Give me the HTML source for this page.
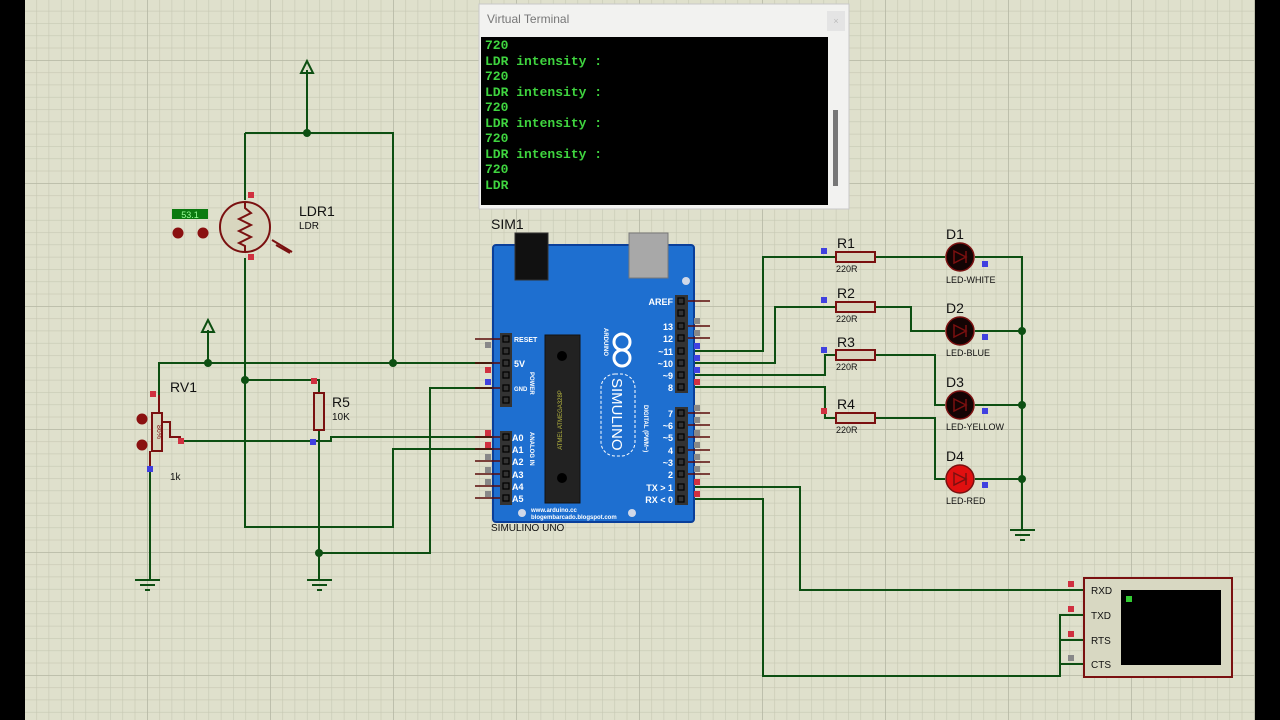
<!DOCTYPE html>
<html><head><meta charset="utf-8"><style>
html,body{margin:0;padding:0;width:1280px;height:720px;overflow:hidden;background:#000}
svg{display:block}
text{font-family:"Liberation Sans",sans-serif}
text.mono{font-family:"Liberation Mono",monospace}
</style></head><body>
<svg width="1280" height="720" viewBox="0 0 1280 720" xmlns="http://www.w3.org/2000/svg">
<defs>
<pattern id="mn" width="12.3" height="12.3" patternUnits="userSpaceOnUse" patternTransform="translate(11.7,10.8)">
<path d="M0 0H12.3M0 0V12.3" stroke="#c6c8b3" stroke-width="1.2" fill="none"/></pattern>
<pattern id="mj" width="123" height="123" patternUnits="userSpaceOnUse" patternTransform="translate(24,60)">
<path d="M0 0H123M0 0V123" stroke="#b6b8a4" stroke-width="1.6" fill="none"/></pattern>
</defs>
<rect x="25" y="0" width="1230" height="720" fill="#dfe0cc"/>
<rect x="25" y="0" width="1230" height="720" fill="url(#mn)"/>
<rect x="25" y="0" width="1230" height="720" fill="url(#mj)"/>

<!-- wires -->
<g stroke="#0d4f12" stroke-width="2" fill="none">
<path d="M307 70V133M245 133H393V363M245 133V200M245 258V527H393V449H500"/>
<path d="M159 395V363H500M208 363V330"/>
<path d="M245 380H319V393M319 430V580M181 441H313H331V437H500"/>
<path d="M319 553H430V388H500"/>
<path d="M150 468V580"/>
<path d="M688 351H763V257H836M875 257H945M975 257H1022V530"/>
<path d="M688 363H775V307H836M875 307H911V331H945M975 331H1022"/>
<path d="M688 375H825V355H836M875 355H935V405H945M975 405H1022"/>
<path d="M688 387H825V418H836M875 418H935V479H945M975 479H1022"/>
<path d="M688 487H800V590H1085"/>
<path d="M688 499H763V676H1060V615H1085M1060 640H1085M1060 664H1085"/>
</g>
<g fill="#0d4f12">
<circle cx="307" cy="133" r="4"/><circle cx="393" cy="363" r="4"/><circle cx="208" cy="363" r="4"/>
<circle cx="245" cy="380" r="4"/><circle cx="319" cy="553" r="4"/>
<circle cx="1022" cy="331" r="4"/><circle cx="1022" cy="405" r="4"/><circle cx="1022" cy="479" r="4"/>
</g>
<g stroke="#0d4f12" stroke-width="2" fill="none">
<path d="M307 61L301 73H313Z"/><path d="M208 320L202 332H214Z"/>
<path d="M135 580H160M140 585H155M145 590H150"/>
<path d="M307 580H332M312 585H327M317 590H322"/>
<path d="M1010 530H1035M1015 535H1030M1020 540H1025"/>
</g>

<!-- LDR -->
<circle cx="245" cy="227" r="25" fill="#d8d6bf" stroke="#7a1010" stroke-width="2"/>
<path d="M245 202V208L251 213L239 219L251 225L239 231L251 237L239 243L245 246V252" stroke="#7a1010" stroke-width="2" fill="none"/>
<path d="M272 240L292 252M276 245L290 253" stroke="#7a1010" stroke-width="2"/>
<rect x="248" y="192" width="6" height="6" fill="#d03040"/><rect x="248" y="254" width="6" height="6" fill="#d03040"/>
<text x="299" y="216" font-size="14" fill="#111">LDR1</text>
<text x="299" y="229" font-size="10" fill="#111">LDR</text>
<rect x="172" y="209" width="36" height="10" fill="#0a7a10"/>
<text x="190" y="218" font-size="9" fill="#9f9" text-anchor="middle">53.1</text>
<circle cx="178" cy="233" r="5.5" fill="#8a1010"/><circle cx="203" cy="233" r="5.5" fill="#8a1010"/>

<!-- RV1 -->
<path d="M159 395V413M150 451V468M162 422H170V437L181 437" stroke="#7a1010" stroke-width="2" fill="none"/>
<rect x="152" y="413" width="10" height="38" fill="#d8d6bf" stroke="#7a1010" stroke-width="2"/>
<text x="157" y="432" font-size="7" fill="#7a1010" transform="rotate(90 157 432)" text-anchor="middle">86%</text>
<rect x="150" y="391" width="6" height="6" fill="#d03040"/><rect x="178" y="438" width="6" height="6" fill="#d03040"/><rect x="147" y="466" width="6" height="6" fill="#4040e0"/>
<circle cx="142" cy="419" r="5.5" fill="#8a1010"/><circle cx="142" cy="445" r="5.5" fill="#8a1010"/>
<text x="170" y="392" font-size="14" fill="#111">RV1</text>
<text x="170" y="480" font-size="10" fill="#111">1k</text>

<!-- R5 -->
<rect x="314" y="393" width="10" height="37" fill="#d8d6bf" stroke="#7a1010" stroke-width="2"/>
<rect x="311" y="378" width="6" height="6" fill="#d03040"/><rect x="310" y="439" width="6" height="6" fill="#4040e0"/>
<text x="332" y="407" font-size="14" fill="#111">R5</text>
<text x="332" y="420" font-size="10" fill="#111">10K</text>

<!-- Arduino -->
<rect x="493" y="245" width="201" height="277" fill="#1e6fd0" stroke="#0a3f9a" stroke-width="2" rx="3"/>
<rect x="629" y="233" width="39" height="45" fill="#a8a8a8" stroke="#777"/>
<rect x="515" y="233" width="33" height="47" fill="#111" stroke="#333"/>
<g fill="#d0d8e8"><circle cx="686" cy="281" r="4"/><circle cx="522" cy="513" r="4"/><circle cx="632" cy="513" r="4"/></g>
<rect x="545" y="335" width="35" height="168" fill="#222" stroke="#111"/>
<circle cx="562" cy="356" r="5" fill="#000"/><circle cx="562" cy="478" r="5" fill="#000"/>
<text x="562" y="420" font-size="6" fill="#b8b840" transform="rotate(-90 562 420)" text-anchor="middle">ATMEL  ATMEGA328P</text>
<rect x="500" y="333" width="12" height="74" fill="#333"/>
<rect x="500" y="431" width="12" height="74" fill="#333"/>
<rect x="675" y="295" width="13" height="98" fill="#333"/>
<rect x="675" y="407" width="13" height="98" fill="#333"/>
<g fill="none" stroke="#000" stroke-width="1.2">
<rect x="503" y="336" width="6" height="6"/><rect x="503" y="348" width="6" height="6"/><rect x="503" y="360" width="6" height="6"/><rect x="503" y="372" width="6" height="6"/><rect x="503" y="385" width="6" height="6"/><rect x="503" y="397" width="6" height="6"/>
<rect x="503" y="434" width="6" height="6"/><rect x="503" y="446" width="6" height="6"/><rect x="503" y="458" width="6" height="6"/><rect x="503" y="471" width="6" height="6"/><rect x="503" y="483" width="6" height="6"/><rect x="503" y="495" width="6" height="6"/>
<rect x="678" y="298" width="6" height="6"/><rect x="678" y="310" width="6" height="6"/><rect x="678" y="323" width="6" height="6"/><rect x="678" y="335" width="6" height="6"/><rect x="678" y="348" width="6" height="6"/><rect x="678" y="360" width="6" height="6"/><rect x="678" y="372" width="6" height="6"/><rect x="678" y="384" width="6" height="6"/>
<rect x="678" y="410" width="6" height="6"/><rect x="678" y="422" width="6" height="6"/><rect x="678" y="434" width="6" height="6"/><rect x="678" y="447" width="6" height="6"/><rect x="678" y="459" width="6" height="6"/><rect x="678" y="471" width="6" height="6"/><rect x="678" y="484" width="6" height="6"/><rect x="678" y="496" width="6" height="6"/>
</g>
<g stroke="#5a0a0a" stroke-width="1.5">
<path d="M475 339H500M475 363H500M475 388H500M475 437H500M475 449H500M475 461H500M475 474H500M475 486H500M475 498H500"/>
<path d="M688 301H710M688 326H710M688 338H710M688 413H710M688 425H710M688 437H710M688 450H710M688 462H710M688 474H710"/>
</g>
<g>
<rect x="485" y="342" width="6" height="6" fill="#888"/><rect x="485" y="367" width="6" height="6" fill="#d03040"/><rect x="485" y="379" width="6" height="6" fill="#4040e0"/>
<rect x="485" y="430" width="6" height="6" fill="#d03040"/><rect x="485" y="442" width="6" height="6" fill="#d03040"/><rect x="485" y="454" width="6" height="6" fill="#888"/><rect x="485" y="467" width="6" height="6" fill="#888"/><rect x="485" y="479" width="6" height="6" fill="#888"/><rect x="485" y="491" width="6" height="6" fill="#888"/>
<rect x="694" y="318" width="6" height="6" fill="#888"/><rect x="694" y="330" width="6" height="6" fill="#888"/><rect x="694" y="343" width="6" height="6" fill="#4040e0"/><rect x="694" y="355" width="6" height="6" fill="#4040e0"/><rect x="694" y="367" width="6" height="6" fill="#4040e0"/><rect x="694" y="379" width="6" height="6" fill="#d03040"/>
<rect x="694" y="405" width="6" height="6" fill="#888"/><rect x="694" y="417" width="6" height="6" fill="#888"/><rect x="694" y="430" width="6" height="6" fill="#888"/><rect x="694" y="442" width="6" height="6" fill="#888"/><rect x="694" y="454" width="6" height="6" fill="#888"/><rect x="694" y="466" width="6" height="6" fill="#888"/><rect x="694" y="479" width="6" height="6" fill="#d03040"/><rect x="694" y="491" width="6" height="6" fill="#d03040"/>
</g>
<g fill="#fff" font-size="9" font-weight="bold">
<text x="514" y="342" font-size="7">RESET</text><text x="514" y="367">5V</text><text x="514" y="391" font-size="6">GND</text>
<text x="512" y="441">A0</text><text x="512" y="453">A1</text><text x="512" y="465">A2</text><text x="512" y="478">A3</text><text x="512" y="490">A4</text><text x="512" y="502">A5</text>
<g text-anchor="end"><text x="673" y="305">AREF</text><text x="673" y="330">13</text><text x="673" y="342">12</text><text x="673" y="355">~11</text><text x="673" y="367">~10</text><text x="673" y="379">~9</text><text x="673" y="391">8</text>
<text x="673" y="417">7</text><text x="673" y="429">~6</text><text x="673" y="441">~5</text><text x="673" y="454">4</text><text x="673" y="466">~3</text><text x="673" y="478">2</text><text x="673" y="491">TX &gt; 1</text><text x="673" y="503">RX &lt; 0</text></g>
<text x="530" y="372" font-size="6" transform="rotate(90 530 372)">POWER</text>
<text x="530" y="432" font-size="6" transform="rotate(90 530 432)">ANALOG IN</text>
<text x="644" y="405" font-size="6" transform="rotate(90 644 405)">DIGITAL (PWM~)</text>
<text x="604" y="328" font-size="6" transform="rotate(90 604 328)">ARDUINO</text>
<text x="612" y="378" font-size="15" font-weight="normal" transform="rotate(90 612 378)">SIMULINO</text>
<text x="531" y="512" font-size="6">www.arduino.cc</text><text x="531" y="519" font-size="6">blogembarcado.blogspot.com</text>
</g>
<rect x="601" y="374" width="34" height="82" rx="14" fill="none" stroke="#fff" stroke-dasharray="3 2"/>
<circle cx="622" cy="342" r="8" fill="none" stroke="#fff" stroke-width="3"/><circle cx="622" cy="358" r="8" fill="none" stroke="#fff" stroke-width="3"/>
<text x="491" y="229" font-size="14" fill="#111">SIM1</text>
<text x="491" y="531" font-size="10" fill="#111">SIMULINO UNO</text>

<!-- resistors & LEDs -->
<g fill="#d8d6bf" stroke="#7a1010" stroke-width="2">
<rect x="836" y="252" width="39" height="10"/><rect x="836" y="302" width="39" height="10"/><rect x="836" y="350" width="39" height="10"/><rect x="836" y="413" width="39" height="10"/>
</g>
<g fill="#4040e0"><rect x="821" y="248" width="6" height="6"/><rect x="821" y="297" width="6" height="6"/><rect x="821" y="347" width="6" height="6"/>
<rect x="982" y="261" width="6" height="6"/><rect x="982" y="334" width="6" height="6"/><rect x="982" y="408" width="6" height="6"/><rect x="982" y="482" width="6" height="6"/></g>
<rect x="821" y="408" width="6" height="6" fill="#d03040"/>
<g font-size="14" fill="#111"><text x="837" y="248">R1</text><text x="837" y="298">R2</text><text x="837" y="347">R3</text><text x="837" y="409">R4</text>
<text x="946" y="239">D1</text><text x="946" y="313">D2</text><text x="946" y="387">D3</text><text x="946" y="461">D4</text></g>
<g font-size="9" fill="#111"><text x="836" y="272">220R</text><text x="836" y="322">220R</text><text x="836" y="370">220R</text><text x="836" y="433">220R</text>
<text x="946" y="283">LED-WHITE</text><text x="946" y="356">LED-BLUE</text><text x="946" y="430">LED-YELLOW</text><text x="946" y="504">LED-RED</text></g>
<g stroke="#7a1010" stroke-width="1.5" fill="none">
<circle cx="960" cy="257" r="14" fill="#140404"/><circle cx="960" cy="331" r="14" fill="#140404"/><circle cx="960" cy="405" r="14" fill="#140404"/><circle cx="960" cy="479" r="14" fill="#e01010"/>
<path d="M954 251L966 257L954 263ZM966 251V263M954 325L966 331L954 337ZM966 325V337M954 399L966 405L954 411ZM966 399V411M954 473L966 479L954 485ZM966 473V485"/>
</g>

<!-- Terminal device -->
<rect x="1084" y="578" width="148" height="99" fill="#d8d8c2" stroke="#7a1010" stroke-width="2"/>
<rect x="1121" y="590" width="100" height="75" fill="#000"/>
<rect x="1126" y="596" width="6" height="6" fill="#3c3"/>
<g fill="#d03040"><rect x="1068" y="581" width="6" height="6"/><rect x="1068" y="606" width="6" height="6"/><rect x="1068" y="631" width="6" height="6"/></g>
<rect x="1068" y="655" width="6" height="6" fill="#888"/>
<g font-size="10" fill="#111"><text x="1091" y="594">RXD</text><text x="1091" y="619">TXD</text><text x="1091" y="644">RTS</text><text x="1091" y="668">CTS</text></g>

<!-- Virtual terminal window -->
<rect x="479" y="4" width="370" height="205" fill="#f2f2f0" stroke="#c8c8c8"/>
<text x="487" y="23" font-size="12" fill="#777">Virtual Terminal</text>
<rect x="827" y="11" width="18" height="20" fill="#e4e4e4"/>
<text x="836" y="24" font-size="9" fill="#bbb" text-anchor="middle">×</text>
<rect x="481" y="37" width="347" height="168" fill="#000"/>
<rect x="833" y="110" width="5" height="76" fill="#777"/>
<g font-size="13" font-weight="bold" fill="#3fd43f">
<text class="mono" x="485" y="49">720</text><text class="mono" x="485" y="65">LDR intensity :</text><text class="mono" x="485" y="80">720</text><text class="mono" x="485" y="96">LDR intensity :</text><text class="mono" x="485" y="111">720</text><text class="mono" x="485" y="127">LDR intensity :</text><text class="mono" x="485" y="142">720</text><text class="mono" x="485" y="158">LDR intensity :</text><text class="mono" x="485" y="173">720</text><text class="mono" x="485" y="189">LDR</text>
</g>
</svg>
</body></html>
